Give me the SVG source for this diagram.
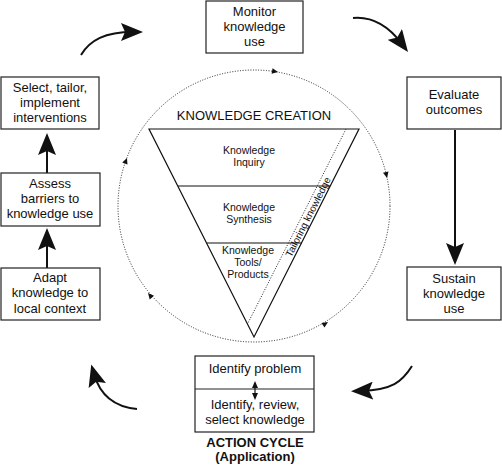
<svg xmlns="http://www.w3.org/2000/svg" width="502" height="467" viewBox="0 0 502 467">
<style>
.box{fill:#fff;stroke:#222;stroke-width:1.2}
.t{font-family:"Liberation Sans",Arial,sans-serif;font-size:13px;fill:#111;text-anchor:middle}
.s{font-family:"Liberation Sans",Arial,sans-serif;font-size:10.5px;fill:#111;text-anchor:middle}
.b{font-family:"Liberation Sans",Arial,sans-serif;font-size:13px;font-weight:bold;fill:#111;text-anchor:middle}
.arr{fill:none;stroke:#111;stroke-width:2}
.dot{fill:none;stroke:#222;stroke-width:1;stroke-dasharray:1 1.6}
.tri{fill:none;stroke:#111;stroke-width:1.2}
.ah{fill:#111}
</style>
<defs>
<marker id="big" markerUnits="userSpaceOnUse" markerWidth="24" markerHeight="18" viewBox="0 0 24 18" refX="12" refY="9" orient="auto">
<path d="M0,0 L22,9 L0,18 L4,9 Z" fill="#111"/>
</marker>
<marker id="sm" markerUnits="userSpaceOnUse" markerWidth="7" markerHeight="6" viewBox="0 0 7 6" refX="5" refY="3" orient="auto-start-reverse">
<path d="M0,0 L7,3 L0,6 Z" fill="#111"/>
</marker>
<path id="h" d="M0,0 L-6,-2.8 L-6,2.8 Z"/>
</defs>

<g id="connectors">
<path class="arr" d="M455,130 L455,255" marker-end="url(#big)"/>
<path class="arr" d="M47,268 L47,238" marker-end="url(#big)"/>
<path class="arr" d="M47,173 L47,143" marker-end="url(#big)"/>
<path class="arr" d="M81,55 C90,40 105,32 133,32" marker-end="url(#big)"/>
<path class="arr" d="M353,18 C375,16 390,28 402,44" marker-end="url(#big)"/>
<path class="arr" d="M412,366 C402,382 392,390 361,391" marker-end="url(#big)"/>
<path class="arr" d="M137,409 C115,407 100,395 94,374" marker-end="url(#big)"/>
</g>

<g id="cycle">
<circle class="dot" cx="254" cy="206" r="136"/>
<use href="#h" class="ah" transform="translate(278,72) rotate(10)"/>
<use href="#h" class="ah" transform="translate(387,178) rotate(78)"/>
<use href="#h" class="ah" transform="translate(328,322) rotate(-33)"/>
<use href="#h" class="ah" transform="translate(148,293) rotate(230)"/>
<use href="#h" class="ah" transform="translate(127,158) rotate(-69)"/>
</g>

<g id="knowledge-creation">
<text class="t" x="254" y="120" style="font-size:13px">KNOWLEDGE CREATION</text>
<path class="tri" d="M149,129 L359,129 L254,337 Z"/>
<line class="tri" x1="178" y1="186" x2="330" y2="186"/>
<line class="tri" x1="207" y1="243" x2="302" y2="243"/>
<line class="dot" x1="346" y1="129" x2="248" y2="323"/>
<text class="s" x="249" y="154">Knowledge</text>
<text class="s" x="249" y="166">Inquiry</text>
<text class="s" x="249" y="211">Knowledge</text>
<text class="s" x="249" y="223">Synthesis</text>
<text class="s" x="248" y="254">Knowledge</text>
<text class="s" x="248" y="266">Tools/</text>
<text class="s" x="248" y="278">Products</text>
<text class="s" transform="translate(308,217) rotate(-63.2)" x="0" y="3.5" style="font-size:10px">Tailoring knowledge</text>
</g>

<g id="monitor">
<rect class="box" x="206" y="1" width="97" height="52"/>
<text class="t" x="254.5" y="16">Monitor</text>
<text class="t" x="254.5" y="31">knowledge</text>
<text class="t" x="254.5" y="46">use</text>
</g>

<g id="evaluate">
<rect class="box" x="407" y="77" width="94" height="52"/>
<text class="t" x="454" y="99">Evaluate</text>
<text class="t" x="454" y="114">outcomes</text>
</g>

<g id="sustain">
<rect class="box" x="407" y="267" width="94" height="53"/>
<text class="t" x="454" y="283">Sustain</text>
<text class="t" x="454" y="298">knowledge</text>
<text class="t" x="454" y="313">use</text>
</g>

<g id="select">
<rect class="box" x="1" y="77" width="98" height="52"/>
<text class="t" x="50" y="92">Select, tailor,</text>
<text class="t" x="50" y="107">implement</text>
<text class="t" x="50" y="122">interventions</text>
</g>

<g id="assess">
<rect class="box" x="1" y="173" width="99" height="53"/>
<text class="t" x="50" y="188">Assess</text>
<text class="t" x="50" y="203">barriers to</text>
<text class="t" x="50" y="218">knowledge use</text>
</g>

<g id="adapt">
<rect class="box" x="1" y="268" width="99" height="52"/>
<text class="t" x="50" y="282">Adapt</text>
<text class="t" x="50" y="297">knowledge to</text>
<text class="t" x="50" y="313">local context</text>
</g>

<g id="identify">
<rect class="box" x="195" y="356" width="119" height="76"/>
<line x1="195" y1="389" x2="314" y2="389" stroke="#222" stroke-width="1.2"/>
<text class="t" x="255" y="373">Identify problem</text>
<line x1="255" y1="383" x2="255" y2="398" stroke="#111" stroke-width="1.2" marker-start="url(#sm)" marker-end="url(#sm)"/>
<text class="t" x="255" y="409">Identify, review,</text>
<text class="t" x="255" y="424">select knowledge</text>
</g>

<g id="action-cycle">
<text class="b" x="255" y="447">ACTION CYCLE</text>
<text class="b" x="255" y="461">(Application)</text>
</g>
</svg>
